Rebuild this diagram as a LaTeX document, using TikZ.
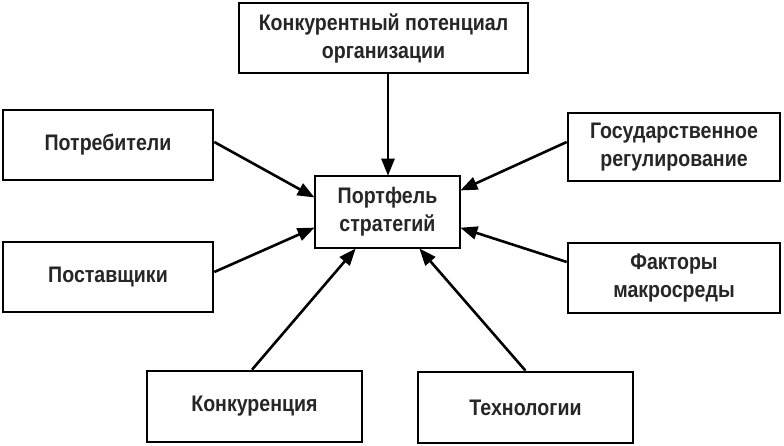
\documentclass[tikz,border=0pt]{standalone}
\usepackage{fontspec}
\setmainfont[FakeStretch=0.87]{Liberation Sans}
\usetikzlibrary{arrows.meta}
\tikzset{
  box/.style={draw=black, line width=2.6pt, fill=white, align=center,
    inner sep=0pt, font=\fontsize{22.5}{28}\selectfont\bfseries, text=black!85},
  conn/.style={line width=2.6pt, -{Triangle[length=17pt,width=13pt]}, shorten >=-1pt}
}
\begin{document}
\begin{tikzpicture}[x=1pt,y=-1pt]
\useasboundingbox (0,0) rectangle (784,446);
\fill[white] (0,0) rectangle (784,446);
\node[box, minimum width=289pt, minimum height=70pt] (top) at (383.5,38) {Конкурентный потенциал\\организации};
\node[box, minimum width=210pt, minimum height=70pt] (potr) at (108,145) {Потребители};
\node[box, minimum width=210pt, minimum height=70pt] (post) at (108,277) {Поставщики};
\node[box, minimum width=212pt, minimum height=68pt] (gos) at (674,147) {Государственное\\регулирование};
\node[box, minimum width=212pt, minimum height=70pt] (fakt) at (674,278) {Факторы\\макросреды};
\node[box, minimum width=145pt, minimum height=72pt] (ctr) at (387.5,212) {Портфель\\стратегий};
\node[box, minimum width=215pt, minimum height=71pt] (konk) at (254.5,406.5) {Конкуренция};
\node[box, minimum width=215pt, minimum height=71pt] (tech) at (525.5,407.5) {Технологии};
\draw[conn] ([xshift=4.5pt]top.south) -- ([xshift=0.5pt]ctr.north);
\draw[conn] ([yshift=3pt]potr.east) -- ([yshift=15pt]ctr.west);
\draw[conn] ([yshift=5pt]post.east) -- ([yshift=-16pt]ctr.west);
\draw[conn] ([yshift=5pt]gos.west) -- ([yshift=22pt]ctr.east);
\draw[conn] ([yshift=16pt]fakt.west) -- ([yshift=-16pt]ctr.east);
\draw[conn] ([xshift=-2.5pt]konk.north) -- ([xshift=-32.5pt]ctr.south);
\draw[conn] (tech.north) -- ([xshift=32.5pt]ctr.south);
\end{tikzpicture}
\end{document}
